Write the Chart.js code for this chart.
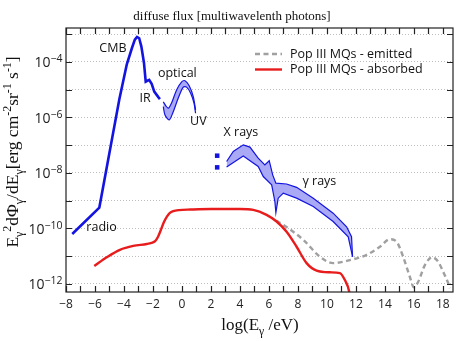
<!DOCTYPE html>
<html>
<head>
<meta charset="utf-8">
<script src="https://cdn.jsdelivr.net/npm/chart.js@4"></script>
<style>
  html, body { margin: 0; padding: 0; background: #fff; }
  #wrap { width: 474px; height: 341px; }
</style>
</head>
<body>
<div id="wrap"><canvas id="myChart" width="474" height="341"></canvas></div>
<script>
// x = log10(E/eV), y values are log10 of the flux
const cmbX = [-7.57, -5.70, -4.32, -3.81, -3.45, -3.25, -3.10, -2.95, -2.80, -2.62, -2.50, -2.39, -2.26, -2.09, -1.91, -1.63, -1.52];
const cmbY = [-10.20, -9.25, -5.35, -4.10, -3.50, -3.20, -3.10, -3.15, -3.45, -4.04, -4.71, -4.68, -4.65, -4.79, -5.07, -5.27, -5.34];

const optUpX = [-1.29, -1.10, -0.94, -0.71, -0.37, -0.02, 0.21, 0.50, 0.78, 0.94];
const optUpY = [-5.44, -5.59, -5.67, -5.47, -5.01, -4.72, -4.68, -4.86, -5.25, -5.73];
const optLoX = [-1.29, -1.17, -0.88, -0.64, -0.26, 0.09, 0.32, 0.60, 0.83, 0.94];
const optLoY = [-5.61, -5.91, -6.09, -5.85, -5.31, -4.91, -4.91, -5.13, -5.49, -5.85];

const xgUpX = [3.08, 3.54, 4.23, 4.69, 5.26, 5.72, 6.02, 6.26, 6.48, 7.22, 7.91, 9.06, 10.43, 11.36, 11.70, 11.77];
const xgUpY = [-7.59, -7.23, -6.99, -7.07, -7.47, -7.71, -7.56, -8.07, -8.37, -8.40, -8.52, -8.91, -9.45, -9.94, -10.30, -11.02];
const xgLoX = [3.08, 4.23, 5.26, 5.61, 6.19, 6.41, 6.48, 6.64, 6.99, 7.91, 9.06, 10.43, 11.47, 11.77];
const xgLoY = [-7.79, -7.39, -7.77, -8.13, -8.43, -9.03, -9.43, -8.91, -8.73, -8.91, -9.21, -9.75, -10.30, -11.02];

const sqX = [2.43, 2.43];
const sqY = [-7.38, -7.80];

const absX = [-6.05, -5.19, -4.28, -3.36, -2.43, -2.1, -1.85, -1.65, -1.45, -1.25, -1.05, -0.85, -0.6, -0.2, 0.6, 2.0, 4.0, 4.92, 5.84, 6.53, 7.22, 7.91, 8.60, 9.29, 10.21, 10.90, 11.24, 11.54, 11.62];
const absY = [-11.35, -11.04, -10.77, -10.63, -10.56, -10.52, -10.46, -10.30, -10.05, -9.78, -9.58, -9.45, -9.38, -9.34, -9.32, -9.30, -9.30, -9.33, -9.51, -9.75, -10.12, -10.66, -11.25, -11.52, -11.58, -11.61, -11.86, -12.28, -12.6];

const emiX = [6.5, 6.99, 8.37, 9.52, 10.43, 11.59, 12.74, 13.66, 14.34, 14.81, 15.26, 15.72, 16.0, 16.30, 16.76, 17.26, 17.68, 18.02, 18.37, 18.48];
const emiY = [-9.72, -9.87, -10.41, -11.02, -11.25, -11.14, -10.95, -10.66, -10.39, -10.48, -11.02, -11.74, -12.12, -11.92, -11.32, -11.04, -11.20, -11.56, -11.97, -12.15];

const xTicks = [-8, -7, -6, -5, -4, -3, -2, -1, 0, 1, 2, 3, 4, 5, 6, 7, 8, 9, 10, 11, 12, 13, 14, 15, 16, 17, 18];
const yDecades = [-12, -11, -10, -9, -8, -7, -6, -5, -4, -3];
const yLabelDecades = [-12, -10, -8, -6, -4];

const noteText = ['CMB', 'IR', 'optical', 'UV', 'X rays', 'γ rays', 'radio'];
const noteX = [-4.76, -2.55, -0.32, 1.13, 4.07, 9.48, -5.55];
const noteY = [-3.50, -5.33, -4.43, -6.15, -6.56, -8.30, -9.98];

const legendNames = ['Pop III MQs - emitted', 'Pop III MQs - absorbed'];

const pts = (xs, ys) => xs.map((x, i) => ({x: x, y: Math.pow(10, ys[i])}));

const BLUE = '#1414e0';
const BAND = '#a9a9f6';
const RED = '#e81c1c';
const GREY = '#a0a0a0';
const SANS = '"Open Sans", "DejaVu Sans", sans-serif';
const SERIF = '"Liberation Serif", "DejaVu Serif", serif';

// text with sub/superscripts, parts = [[text, 'n'|'sub'|'sup'], ...], centred on x
function richText(ctx, parts, x, y, size, family) {
  const sz = m => m === 'n' ? size : size * 0.68;
  let w = 0;
  parts.forEach(([t, m]) => { ctx.font = sz(m) + 'px ' + family; w += ctx.measureText(t).width; });
  let cx = x - w / 2;
  ctx.textAlign = 'left';
  ctx.textBaseline = 'alphabetic';
  parts.forEach(([t, m]) => {
    ctx.font = sz(m) + 'px ' + family;
    const dy = m === 'sub' ? size * 0.28 : m === 'sup' ? -size * 0.4 : 0;
    ctx.fillText(t, cx, y + dy);
    cx += ctx.measureText(t).width;
  });
}

const decor = {
  id: 'decor',
  afterDraw(chart) {
    const ctx = chart.ctx;
    const a = chart.chartArea;
    const x = chart.scales.x, y = chart.scales.y;
    ctx.save();
    // frame and inward ticks
    ctx.strokeStyle = '#222';
    ctx.lineWidth = 1.2;
    ctx.strokeRect(a.left, a.top, a.right - a.left, a.bottom - a.top);
    ctx.beginPath();
    xTicks.forEach(v => {
      const px = Math.round(x.getPixelForValue(v)) + 0.5;
      ctx.moveTo(px, a.bottom); ctx.lineTo(px, a.bottom - 6);
      ctx.moveTo(px, a.top); ctx.lineTo(px, a.top + 6);
    });
    yDecades.forEach(e => {
      const py = Math.round(y.getPixelForValue(Math.pow(10, e))) + 0.5;
      ctx.moveTo(a.left, py); ctx.lineTo(a.left + 6, py);
      ctx.moveTo(a.right, py); ctx.lineTo(a.right - 6, py);
    });
    ctx.stroke();

    // y tick labels 10^n
    ctx.fillStyle = '#222';
    ctx.textBaseline = 'alphabetic';
    yLabelDecades.forEach(e => {
      const py = y.getPixelForValue(Math.pow(10, e));
      const sup = '\u2212' + Math.abs(e);
      ctx.font = '10.5px ' + SANS;
      const ws = ctx.measureText(sup).width;
      ctx.textAlign = 'right';
      ctx.fillText(sup, a.left - 3.5, py + 0.5);
      ctx.font = '14px ' + SANS;
      ctx.fillText('10', a.left - 3.5 - ws, py + 5.5);
    });

    // annotations
    ctx.font = '12.5px ' + SANS;
    ctx.fillStyle = '#111';
    ctx.textAlign = 'center';
    ctx.textBaseline = 'middle';
    noteText.forEach((t, i) => {
      ctx.fillText(t, x.getPixelForValue(noteX[i]), y.getPixelForValue(Math.pow(10, noteY[i])));
    });

    // legend
    const rows = [[GREY, [5, 3.5]], [RED, []]];
    rows.forEach(([c, dash], i) => {
      const ly = 54 + i * 15.5;
      ctx.strokeStyle = c;
      ctx.lineWidth = 2.4;
      ctx.setLineDash(dash);
      ctx.beginPath(); ctx.moveTo(255, ly); ctx.lineTo(282, ly); ctx.stroke();
      ctx.setLineDash([]);
      ctx.fillStyle = '#111';
      ctx.textAlign = 'left';
      ctx.textBaseline = 'middle';
      ctx.font = '12.5px ' + SANS;
      ctx.fillText(legendNames[i], 290, ly);
    });

    // titles
    ctx.fillStyle = '#111';
    ctx.font = '13px ' + SERIF;
    ctx.textAlign = 'center';
    ctx.textBaseline = 'alphabetic';
    ctx.fillText('diffuse flux [multiwavelenth photons]', 232, 20);
    richText(ctx, [['log(E', 'n'], ['γ', 'sub'], [' /eV)', 'n']], 260, 330, 17, SERIF);
    ctx.translate(18, 152);
    ctx.rotate(-Math.PI / 2);
    richText(ctx, [['E', 'n'], ['γ', 'sub'], ['2', 'sup'], ['dΦ', 'n'], ['γ', 'sub'], ['/dE', 'n'], ['γ', 'sub'],
      ['[erg cm', 'n'], ['-2', 'sup'], ['sr', 'n'], ['-1', 'sup'], [' s', 'n'], ['-1', 'sup'], [']', 'n']], 0, 0, 17.5, SERIF);
    ctx.restore();
  }
};

const lineDs = (label, xs, ys, color, extra) => Object.assign({
  label: label,
  data: pts(xs, ys),
  borderColor: color,
  borderWidth: 2.4,
  pointRadius: 0,
  fill: false,
  tension: 0
}, extra || {});

const ctx = document.getElementById('myChart').getContext('2d');
new Chart(ctx, {
  type: 'line',
  data: {
    datasets: [
      lineDs('Pop III MQs - absorbed', absX, absY, RED, {cubicInterpolationMode: 'monotone'}),
      lineDs('Pop III MQs - emitted', emiX, emiY, GREY, {cubicInterpolationMode: 'monotone', borderDash: [5, 3.5]}),
      lineDs('CMB / IR / radio', cmbX, cmbY, BLUE, {borderWidth: 2.6}),
      lineDs('optical upper', optUpX, optUpY, BLUE, {borderWidth: 1.2, fill: '+1', backgroundColor: BAND, tension: 0.3}),
      lineDs('optical lower', optLoX, optLoY, BLUE, {borderWidth: 1.2, tension: 0.3}),
      lineDs('X/gamma upper', xgUpX, xgUpY, BLUE, {borderWidth: 1.2, fill: '+1', backgroundColor: BAND}),
      lineDs('X/gamma lower', xgLoX, xgLoY, BLUE, {borderWidth: 1.2}),
      {
        label: 'points',
        data: pts(sqX, sqY),
        showLine: false,
        pointStyle: 'rect',
        pointRadius: 3.2,
        backgroundColor: BLUE,
        borderColor: BLUE,
        borderWidth: 0
      }
    ]
  },
  options: {
    responsive: false,
    animation: false,
    events: [],
    layout: { padding: { left: 0, top: 28, right: 21, bottom: 0 } },
    plugins: {
      legend: { display: false },
      tooltip: { enabled: false },
      filler: { drawTime: 'beforeDatasetsDraw' }
    },
    scales: {
      x: {
        type: 'linear',
        min: -8,
        max: 18.7,
        afterBuildTicks: s => { s.ticks = xTicks.map(v => ({value: v})); },
        afterFit: s => { s.height = 49; },
        grid: { display: false, drawTicks: false },
        border: { display: false },
        ticks: {
          autoSkip: false,
          maxRotation: 0,
          padding: 5,
          color: '#222',
          font: { family: SANS, size: 12 },
          callback: v => v % 2 === 0 ? String(v).replace('-', '\u2212') : ''
        }
      },
      y: {
        type: 'logarithmic',
        min: Math.pow(10, -12.29),
        max: Math.pow(10, -2.78),
        afterBuildTicks: s => { s.ticks = yDecades.map(e => ({value: Math.pow(10, e)})); },
        afterFit: s => { s.width = 66; },
        grid: { color: '#bdbdbd', lineWidth: 1, drawTicks: false },
        border: { display: false, dash: [1, 2] },
        ticks: { display: false }
      }
    }
  },
  plugins: [decor]
});
</script>
</body>
</html>
